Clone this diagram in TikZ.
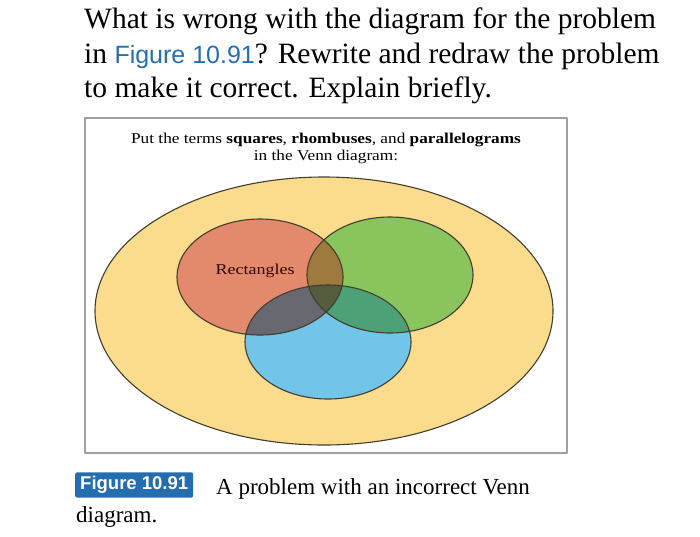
\documentclass[tikz,border=0pt]{standalone}
\usepackage{fontspec}
\setmainfont{Liberation Serif}
\newfontfamily\figfont{Liberation Sans}
\definecolor{figblue}{RGB}{36,110,176}
\definecolor{frame}{RGB}{160,160,160}
\definecolor{outline}{RGB}{66,62,46}
\definecolor{venyellow}{RGB}{251,219,140}
\definecolor{venred}{RGB}{228,138,108}
\definecolor{vengreen}{RGB}{138,196,92}
\definecolor{venblue}{RGB}{114,196,232}
\definecolor{venrg}{RGB}{158,122,62}
\definecolor{venrb}{RGB}{104,104,112}
\definecolor{vengb}{RGB}{76,162,118}
\definecolor{venrgb}{RGB}{84,94,62}
\def\outerell{(324,311) ellipse [x radius=229pt, y radius=134pt]}
\def\redell{(260,277) ellipse [x radius=83pt, y radius=58pt]}
\def\greenell{(390,275) ellipse [x radius=83pt, y radius=58pt]}
\def\blueell{(328,342) ellipse [x radius=83pt, y radius=57pt]}
\tikzset{
  question/.style={anchor=base west, inner sep=0pt, font=\fontsize{29.5}{35}\selectfont},
  prompt/.style={inner sep=0pt, font=\fontsize{15}{17}\selectfont},
  caption/.style={anchor=base west, inner sep=0pt, font=\fontsize{23}{27}\selectfont\frenchspacing},
  ring/.style={draw=outline, line width=1.1pt}
}
\begin{document}
\begin{tikzpicture}[x=1pt, y=-1pt, line join=round, line cap=round]
	\useasboundingbox (0,0) rectangle (700,536);
	% question text
	\node[question] (q1) at (84,28) {What is wrong with the diagram for the problem};
	\node[question] (q2) at (84,63) {in {\figfont\color{figblue}\fontsize{25}{30}\selectfont Figure 10.91}? Rewrite and redraw the problem};
	\node[question] (q3) at (84,97) {to make it correct. Explain briefly.};
	% figure frame
	\draw[frame, line width=2pt] (85,118) rectangle (567,453);
	\node[prompt] (p1) at (326,140) {\scalebox{1.15}[1]{Put the terms \textbf{squares}, \textbf{rhombuses}, and \textbf{parallelograms}}};
	\node[prompt] (p2) at (326,157) {\scalebox{1.15}[1]{in the Venn diagram:}};
	% venn diagram
	\fill[venyellow] \outerell;
	\fill[venred] \redell;
	\fill[vengreen] \greenell;
	\fill[venblue] \blueell;
	\begin{scope}
		\clip \redell;
		\fill[venrg] \greenell;
		\fill[venrb] \blueell;
	\end{scope}
	\begin{scope}
		\clip \greenell;
		\fill[vengb] \blueell;
		\clip \redell;
		\fill[venrgb] \blueell;
	\end{scope}
	\draw[ring] \outerell \redell \greenell \blueell;
	\node[font=\fontsize{15}{17}\selectfont, text=black!80!red] (rect) at (255,271) {\scalebox{1.2}[1]{Rectangles}};
	% caption
	\node[fill=figblue, text=white, font=\figfont\bfseries\fontsize{18.5}{21}\selectfont, rounded corners=2pt, inner xsep=5pt, inner ysep=4pt, anchor=west] (lab) at (75,485) {Figure 10.91};
	\node[caption] (c1) at (216,494) {A problem with an incorrect Venn};
	\node[caption] (c2) at (76,522) {diagram.};
\end{tikzpicture}
\end{document}
